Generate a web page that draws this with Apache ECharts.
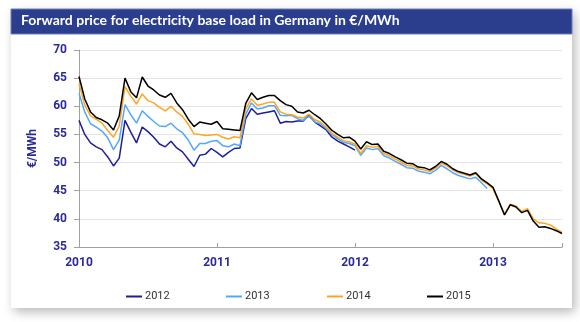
<!DOCTYPE html>
<html><head><meta charset="utf-8">
<script src="https://cdn.jsdelivr.net/npm/echarts@6/dist/echarts.min.js"></script>
<style>html,body{margin:0;padding:0;background:#fff}#c{width:580px;height:322px}</style>
</head><body><div id="c"></div>
<script>
// Half-monthly observations starting Jan 2010
const startYear = 2010;
const stepYears = 1 / 24;
const yTicks = [35, 40, 45, 50, 55, 60, 65, 70];
const xTickYears = [2010, 2011, 2012, 2013];
const seriesNames = ['2012', '2013', '2014', '2015'];

const cal2012 = [57.5,55.0,53.5,52.8,52.3,51.0,49.4,50.8,57.5,55.4,53.5,56.3,55.5,54.5,53.3,52.8,53.8,52.6,51.9,50.6,
  49.3,51.3,51.5,52.5,51.8,51.0,51.8,52.5,52.6,57.8,59.6,58.6,58.8,59.0,59.2,57.0,57.3,57.2,57.4,57.4,
  58.5,57.2,56.5,55.8,54.5,53.8,53.3,52.8,52.2];
const cal2013 = [62.3,59.0,56.9,56.3,55.6,54.4,52.3,54.0,60.3,58.5,57.0,59.2,58.2,57.3,56.5,56.4,57.0,56.0,55.3,54.0,
  52.2,53.4,53.4,53.8,53.9,53.0,52.8,53.3,53.0,58.6,60.6,59.5,59.7,60.1,60.1,58.4,58.3,58.4,57.8,57.5,
  58.2,57.2,56.9,56.0,55.0,54.2,53.6,53.4,53.0,51.3,52.6,52.3,52.5,51.2,50.8,50.2,49.7,49.1,49.0,48.5,
  48.3,48.0,48.6,49.5,48.9,48.2,47.7,47.4,47.1,47.4,46.4,45.4];
const cal2014 = [64.0,60.2,58.3,57.7,57.0,55.7,54.5,56.5,63.5,61.8,60.4,62.2,61.0,60.6,59.8,59.2,60.0,59.0,58.2,56.8,
  55.1,55.0,54.8,54.9,55.0,54.5,54.2,54.6,54.4,59.5,61.3,60.2,60.4,60.7,60.7,59.0,58.6,58.5,58.1,57.9,
  58.6,57.6,57.2,56.3,55.2,54.5,53.9,53.7,53.3,51.6,53.0,52.7,52.9,51.6,51.2,50.6,50.1,49.5,49.4,48.9,
  48.7,48.4,49.0,49.9,49.4,48.7,48.2,47.9,47.6,48.0,46.9,46.2,45.4,43.1,40.8,42.6,42.3,41.3,41.8,40.0,
  39.3,39.2,38.9,38.2,37.6];
const cal2015 = [65.3,61.3,59.0,58.0,57.6,57.0,55.8,58.3,65.0,62.6,61.5,65.2,63.6,62.9,62.0,61.6,62.3,60.6,59.4,57.7,
  56.4,57.2,57.0,56.8,57.3,56.0,55.9,55.8,55.7,60.5,62.4,61.2,61.6,61.9,61.9,61.0,60.3,60.0,59.0,58.8,
  59.3,58.5,57.8,56.8,55.7,55.0,54.4,54.5,53.8,52.4,53.7,53.2,53.3,52.0,51.6,51.0,50.5,49.9,49.8,49.2,
  49.1,48.7,49.3,50.2,49.7,48.9,48.4,48.1,47.8,48.2,47.1,46.4,45.6,43.2,40.7,42.5,42.1,41.1,41.5,39.6,
  38.5,38.6,38.3,37.9,37.4];

const colors = ['#1e1e9c', '#52a8ff', '#ffa51f', '#000000'];
const allValues = [cal2012, cal2013, cal2014, cal2015];

function toPairs(vals) { return vals.map((v, i) => [startYear + i * stepYears, v]); }

const axisText = '#2a2a9a';
const chart = echarts.init(document.getElementById('c'), null, {renderer: 'canvas'});
const legendLefts = [121, 221, 322, 422];
chart.setOption({
  animation: false,
  backgroundColor: '#ffffff',
  graphic: [
    {type: 'rect', z: -10, shape: {x: 11, y: 9, width: 561, height: 299},
     style: {fill: '#ffffff', shadowBlur: 10, shadowColor: 'rgba(0,0,0,0.28)', shadowOffsetX: 3, shadowOffsetY: 4}},
    {type: 'rect', z: -9, shape: {x: 11, y: 9, width: 561, height: 25},
     style: {fill: '#2b3e8e', stroke: '#6f7fb8', lineWidth: 1}},
    {type: 'text', z: -8, left: 21, top: 13,
     style: {text: 'Forward price for electricity base load in Germany in €/MWh', fill: '#ffffff',
       font: 'bold 14px Lato'}}
  ],
  grid: {left: 79, right: 18, top: 50, bottom: 75},
  xAxis: {
    type: 'value', min: xTickYears[0], max: 2013.5, interval: 1,
    axisLine: {lineStyle: {color: '#a0a0a0'}},
    axisTick: {inside: true, length: 4, lineStyle: {color: '#a0a0a0'}},
    splitLine: {show: false},
    axisLabel: {color: axisText, fontFamily: 'Roboto', fontWeight: 'bold', fontSize: 12, margin: 10,
      formatter: v => xTickYears.includes(v) ? String(v) : ''}
  },
  yAxis: {
    type: 'value', min: yTicks[0], max: yTicks[yTicks.length - 1], interval: 5,
    name: '€/MWh', nameLocation: 'middle', nameGap: 40, nameRotate: 90,
    nameTextStyle: {color: axisText, fontFamily: 'Roboto', fontWeight: 'bold', fontSize: 12},
    axisLine: {show: true, lineStyle: {color: '#a0a0a0'}},
    axisTick: {show: true, length: 5, lineStyle: {color: '#a0a0a0'}},
    splitLine: {lineStyle: {color: '#e4e4e4'}},
    axisLabel: {color: axisText, fontFamily: 'Roboto', fontWeight: 'bold', fontSize: 12, margin: 12}
  },
  legend: seriesNames.map((n, k) => ({
    data: [n], left: legendLefts[k], top: 286, itemWidth: 16, itemHeight: 10, itemGap: 3,
    icon: 'path://M0,4 L16,4 L16,6 L0,6 Z',
    textStyle: {color: '#333', fontFamily: 'Roboto', fontSize: 11, padding: [0,0,0,-2]}
  })),
  series: seriesNames.map((n, k) => ({
    name: n, type: 'line', data: toPairs(allValues[k]), showSymbol: false, symbol: 'none',
    lineStyle: {width: 1.5, color: colors[k]}, itemStyle: {color: colors[k]}, z: 2 + k
  }))
});
</script></body></html>
